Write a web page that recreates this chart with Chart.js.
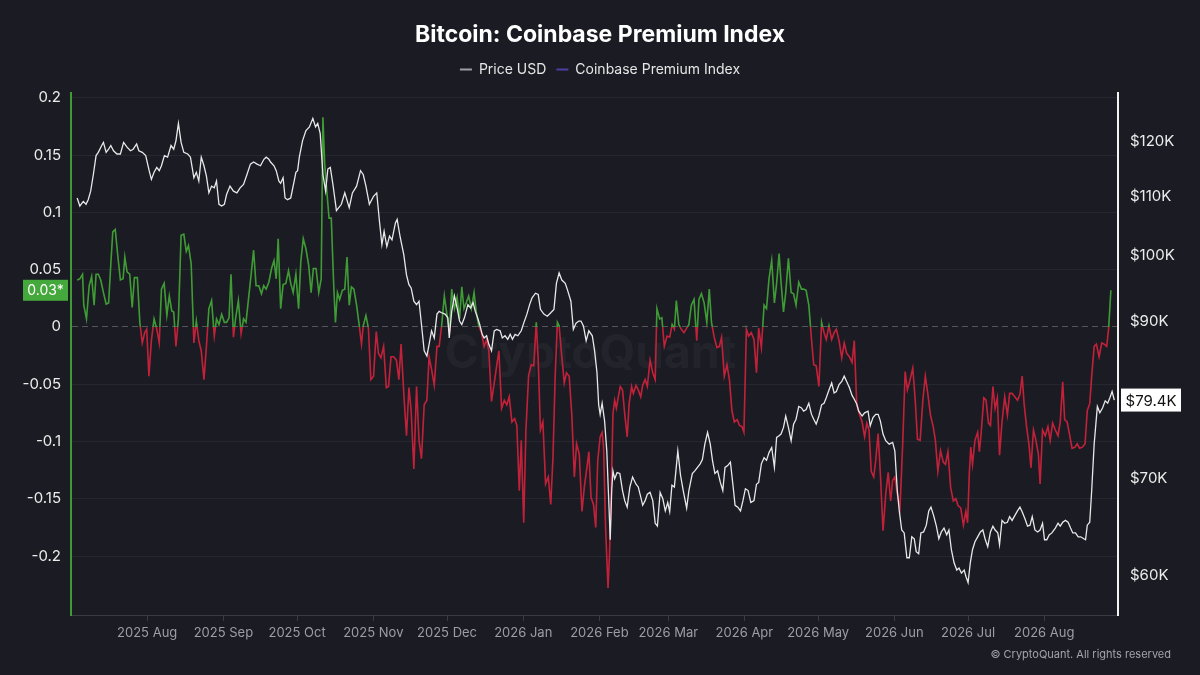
<!DOCTYPE html>
<html>
<head>
<meta charset="utf-8">
<title>Bitcoin: Coinbase Premium Index</title>
<script src="https://cdn.jsdelivr.net/npm/chart.js@4.4.1/dist/chart.umd.min.js"></script>
<style>
  html, body { margin: 0; padding: 0; background: #1b1b23; }
  #wrap { width: 1200px; height: 675px; position: relative; }
</style>
</head>
<body>
<div id="wrap"><canvas id="myChart"></canvas></div>
<script>
'use strict';

// x values are days counted from 2025-07-01
let xTickDays = [31, 62, 92, 123, 153, 184, 215, 243, 274, 304, 335, 365, 396];
let xTickLabels = ['2025 Aug', '2025 Sep', '2025 Oct', '2025 Nov', '2025 Dec', '2026 Jan', '2026 Feb',
  '2026 Mar', '2026 Apr', '2026 May', '2026 Jun', '2026 Jul', '2026 Aug'];
let premiumTicks = [-0.2, -0.15, -0.1, -0.05, 0, 0.05, 0.1, 0.15, 0.2];
let priceTicks = [60, 70, 80, 90, 100, 110, 120];

// Price USD, in thousands
let priceDays = [2.5, 3.6, 5.0, 6.1, 7.0, 8.0, 9.1, 10.2, 11.1, 12.5, 13.2, 14.3, 15.3, 16.2, 17.3, 18.7, 20.1, 21.4, 22.8, 24.2,
  25.3, 26.7, 27.6, 29.0, 30.4, 31.8, 32.7, 33.8, 34.9, 35.9, 36.8, 38.0, 39.3, 40.7, 41.8, 42.7, 43.7, 44.8, 45.9, 47.5,
  48.6, 50.0, 51.0, 52.0, 53.0, 54.1, 55.1, 56.1, 57.2, 58.3, 59.2, 60.2, 61.3, 62.4, 63.3, 64.7, 66.1, 67.5, 68.8, 70.2,
  71.6, 73.0, 74.3, 75.7, 77.1, 78.5, 79.4, 80.5, 81.2, 82.6, 83.5, 84.6, 85.3, 86.3, 87.1, 88.1, 89.4, 90.8, 91.5, 92.2,
  92.9, 94.2, 95.6, 97.0, 98.4, 99.5, 100.4, 101.4, 102.5, 103.6, 104.5, 105.5, 106.6, 108.0, 110.0, 111.4, 113.2, 114.5, 116.2, 117.8,
  118.9, 120.0, 121.4, 123.1, 124.4, 125.5, 126.5, 127.4, 128.5, 129.6, 130.6, 132.0, 132.7, 134.0, 135.4, 136.5, 137.5, 138.4, 139.5, 140.6,
  141.6, 142.6, 143.7, 144.8, 145.7, 146.7, 147.8, 148.9, 149.8, 150.8, 152.2, 153.3, 153.9, 154.9, 156.0, 157.1, 158.1, 159.0, 160.1, 161.5,
  162.6, 163.6, 164.5, 165.4, 166.3, 167.3, 168.1, 169.1, 170.0, 171.1, 172.2, 173.2, 174.6, 175.5, 176.6, 177.7, 178.7, 179.6, 180.7, 181.8,
  183.2, 184.2, 185.5, 186.6, 187.6, 189.0, 190.1, 191.0, 192.4, 193.8, 195.2, 196.5, 197.5, 198.6, 199.7, 201.1, 202.0, 203.4, 204.4, 205.5,
  206.6, 207.5, 208.5, 209.6, 210.7, 212.1, 213.0, 214.0, 214.7, 215.3, 216.1, 217.1, 218.0, 218.9, 219.4, 220.0, 220.5, 221.2, 222.2, 223.3,
  224.4, 225.3, 226.3, 227.4, 228.5, 229.9, 230.8, 231.8, 232.6, 233.6, 234.5, 235.6, 236.7, 237.7, 238.6, 239.7, 240.8, 241.8, 242.8, 243.6,
  244.5, 245.5, 246.9, 248.0, 249.1, 250.5, 251.4, 252.8, 253.8, 254.9, 256.0, 256.9, 257.9, 259.0, 260.1, 261.0, 262.0, 263.1, 264.2, 265.2,
  266.1, 267.2, 268.3, 269.3, 270.2, 271.3, 272.4, 273.4, 274.4, 275.5, 276.6, 277.9, 278.9, 279.8, 280.9, 282.0, 283.0, 284.0, 285.1, 286.2,
  287.1, 288.1, 288.9, 289.9, 290.8, 291.9, 293.0, 294.0, 295.0, 296.1, 297.2, 298.1, 299.1, 300.2, 301.3, 302.2, 303.2, 304.3, 305.4, 306.4,
  307.3, 308.4, 309.5, 310.5, 311.4, 312.5, 313.6, 314.6, 315.6, 316.7, 317.8, 318.7, 319.7, 320.5, 321.9, 322.9, 324.3, 325.2, 326.3, 327.4,
  328.4, 329.3, 330.4, 331.5, 332.9, 334.3, 335.2, 336.2, 337.0, 338.0, 339.0, 340.1, 341.1, 342.1, 343.1, 343.9, 344.9, 345.8, 346.9, 348.0,
  349.0, 349.9, 351.0, 352.1, 353.1, 354.1, 355.2, 356.3, 357.2, 358.2, 359.3, 360.4, 361.3, 362.3, 363.4, 364.1, 365.0, 365.9, 366.8, 367.8,
  368.9, 370.0, 371.0, 371.9, 373.0, 374.1, 375.1, 376.0, 377.1, 377.8, 378.8, 379.9, 381.0, 381.9, 382.9, 384.0, 385.1, 386.1, 387.0, 388.1,
  389.2, 390.2, 391.1, 392.2, 393.3, 394.3, 395.3, 396.1, 397.0, 398.0, 399.1, 400.5, 401.6, 402.5, 403.5, 404.6, 405.7, 406.7, 407.6, 408.7,
  409.8, 410.8, 412.1, 412.8, 413.5, 414.5, 415.3, 416.3, 417.6, 418.6, 419.7, 420.8, 421.8, 422.7, 423.6, 424.5];
let priceK = [109.7, 108.3, 109.1, 108.6, 109.4, 110.9, 113.9, 117.4, 118.0, 119.3, 119.9, 118.0, 118.6, 119.3, 118.3, 117.7, 117.7, 119.9, 119.0, 118.3,
  118.6, 119.6, 118.3, 118.0, 117.4, 114.6, 113.0, 114.3, 115.2, 114.6, 115.5, 117.4, 117.1, 119.3, 118.6, 120.2, 123.6, 119.9, 118.0, 117.7,
  117.1, 113.3, 114.3, 112.7, 117.1, 115.5, 113.6, 110.6, 111.8, 111.5, 112.7, 108.6, 108.3, 108.6, 110.3, 111.8, 110.9, 110.6, 111.5, 112.1,
  113.9, 115.8, 116.2, 115.8, 115.5, 116.7, 117.1, 116.7, 116.2, 115.5, 114.6, 112.7, 112.3, 113.3, 109.7, 109.4, 109.7, 112.7, 114.3, 114.6,
  117.1, 120.2, 122.2, 122.9, 124.6, 122.9, 123.6, 121.6, 113.9, 110.9, 114.9, 115.2, 112.0, 107.5, 108.6, 110.6, 108.0, 110.6, 111.8, 114.6,
  113.9, 111.8, 108.6, 110.0, 110.6, 105.7, 101.8, 104.0, 101.5, 103.2, 102.6, 105.4, 106.0, 102.9, 100.2, 97.0, 95.5, 95.0, 93.0, 92.5,
  93.0, 89.6, 85.9, 85.2, 86.8, 88.7, 87.7, 91.1, 91.5, 91.3, 91.1, 90.6, 87.7, 91.5, 93.8, 92.0, 90.1, 89.6, 90.6, 92.5,
  92.0, 92.8, 91.5, 90.6, 89.6, 88.2, 87.7, 88.0, 86.8, 85.9, 88.7, 88.9, 88.7, 87.7, 88.0, 87.5, 88.2, 87.5, 88.2, 88.0,
  88.7, 89.8, 91.1, 92.5, 93.5, 94.2, 94.0, 91.8, 91.1, 90.8, 91.3, 91.8, 95.7, 97.3, 96.2, 95.7, 94.7, 93.0, 88.9, 89.8,
  90.1, 90.1, 89.4, 87.3, 88.7, 88.0, 86.0, 83.0, 78.8, 77.6, 79.0, 76.8, 73.2, 66.9, 63.5, 68.7, 70.9, 70.0, 70.7, 70.6,
  68.7, 67.6, 66.9, 69.1, 70.2, 69.4, 69.1, 68.0, 67.1, 67.6, 68.3, 68.5, 67.6, 65.2, 64.9, 68.5, 67.8, 66.5, 67.4, 66.4,
  69.3, 69.1, 73.2, 70.4, 68.7, 66.8, 68.7, 70.6, 70.9, 71.3, 71.7, 72.2, 74.0, 75.4, 74.0, 72.1, 70.6, 70.9, 69.6, 68.7,
  71.3, 71.5, 71.9, 69.4, 67.1, 66.9, 66.5, 67.6, 68.9, 68.7, 67.4, 67.6, 69.4, 69.6, 71.7, 72.4, 72.1, 73.0, 73.6, 71.3,
  74.8, 75.0, 75.2, 76.0, 77.4, 76.0, 74.4, 76.4, 77.0, 78.6, 78.4, 78.0, 78.2, 79.0, 77.6, 77.0, 76.4, 77.4, 78.8, 79.0,
  79.7, 80.7, 81.6, 80.3, 80.5, 81.4, 81.8, 82.5, 81.8, 81.0, 80.0, 79.5, 78.9, 78.0, 77.4, 77.8, 78.0, 76.2, 77.2, 77.6,
  77.6, 76.8, 75.2, 74.4, 74.0, 74.2, 73.2, 68.7, 66.5, 64.5, 64.2, 61.7, 61.7, 63.8, 63.6, 62.3, 62.1, 64.2, 64.3, 65.0,
  66.5, 66.9, 66.0, 64.9, 63.6, 64.3, 64.7, 64.0, 64.5, 62.5, 61.2, 60.5, 60.7, 60.2, 60.5, 59.9, 59.3, 61.2, 62.5, 63.3,
  63.8, 64.3, 64.5, 63.6, 62.8, 64.3, 64.9, 64.5, 64.2, 63.0, 65.5, 65.2, 65.3, 65.9, 65.5, 66.0, 66.5, 66.9, 66.4, 65.7,
  64.9, 65.0, 65.9, 64.5, 64.3, 64.5, 65.2, 63.5, 63.5, 64.0, 64.2, 64.7, 65.2, 64.9, 65.3, 65.5, 65.3, 64.7, 64.2, 64.2,
  63.8, 63.8, 63.6, 63.5, 65.0, 65.3, 68.7, 74.0, 78.6, 77.8, 78.4, 79.3, 79.0, 79.7, 80.5, 79.4];

// Coinbase Premium Index
let premiumDays = [2.5, 3.6, 4.7, 5.2, 6.3, 7.4, 8.4, 9.4, 10.2, 11.1, 12.1, 13.2, 14.3, 15.3, 16.2, 17.0, 18.0, 19.0, 20.1, 21.2,
  21.9, 22.8, 23.9, 24.9, 25.8, 27.0, 28.0, 29.0, 30.0, 30.8, 31.7, 32.7, 33.8, 34.9, 35.9, 36.8, 37.9, 39.0, 40.0, 41.0,
  41.8, 42.7, 43.7, 44.8, 45.9, 46.9, 47.8, 48.9, 50.0, 51.0, 52.0, 53.0, 54.1, 55.1, 56.1, 57.2, 58.3, 59.2, 60.2, 61.3,
  62.4, 63.3, 64.3, 65.1, 66.1, 67.0, 68.1, 69.2, 70.2, 71.2, 72.3, 73.4, 74.3, 75.3, 76.4, 77.5, 78.4, 79.4, 80.5, 81.6,
  82.6, 83.5, 84.3, 85.3, 86.3, 87.4, 88.5, 89.4, 90.4, 91.5, 92.6, 93.5, 94.5, 95.6, 96.7, 97.7, 98.6, 99.7, 100.8, 101.8,
  102.5, 103.2, 104.1, 105.0, 105.9, 106.9, 107.6, 108.4, 109.3, 110.4, 111.4, 112.3, 113.2, 114.1, 115.1, 116.2, 117.3, 118.2, 118.9, 120.0,
  121.0, 122.0, 123.1, 124.2, 125.1, 126.1, 127.2, 128.3, 129.2, 130.2, 131.3, 132.4, 133.4, 134.3, 135.4, 136.5, 137.5, 138.4, 139.5, 140.6,
  141.6, 142.6, 143.7, 144.8, 145.7, 146.7, 147.8, 148.9, 149.8, 150.8, 151.9, 153.0, 154.0, 154.9, 156.0, 157.1, 158.1, 159.0, 159.9, 160.8,
  161.8, 162.9, 164.0, 164.9, 165.9, 167.0, 168.1, 169.1, 170.0, 171.1, 172.2, 173.2, 174.1, 175.2, 176.3, 177.3, 178.3, 179.4, 180.5, 181.4,
  182.4, 183.2, 184.2, 185.1, 186.2, 187.3, 188.3, 189.3, 190.1, 191.0, 192.0, 193.1, 194.2, 195.2, 196.1, 197.0, 197.9, 198.6, 199.7, 200.7,
  201.6, 202.7, 203.8, 204.8, 205.7, 206.8, 207.9, 208.9, 209.9, 210.7, 211.6, 212.6, 213.5, 214.3, 215.3, 216.1, 216.7, 217.5, 218.5, 219.1,
  219.8, 220.5, 221.2, 221.9, 222.6, 223.5, 224.4, 225.3, 226.3, 227.1, 228.1, 228.8, 229.9, 230.8, 231.8, 232.6, 233.6, 234.5, 235.6, 236.7,
  237.7, 238.4, 239.5, 240.4, 241.4, 242.5, 243.6, 244.6, 245.5, 246.3, 247.3, 248.3, 249.4, 250.5, 251.4, 252.4, 253.5, 254.6, 255.5, 256.5,
  257.6, 258.7, 259.7, 260.6, 261.7, 262.8, 263.8, 264.7, 265.8, 266.9, 267.9, 268.9, 269.9, 271.1, 272.0, 273.0, 273.8, 274.8, 275.7, 276.8,
  277.9, 278.9, 279.8, 280.9, 282.0, 283.0, 284.0, 285.1, 286.2, 287.1, 288.1, 288.9, 289.9, 290.8, 291.9, 293.0, 294.0, 295.0, 296.1, 297.2,
  298.1, 299.1, 300.2, 301.3, 302.2, 303.2, 304.3, 305.4, 306.4, 307.3, 308.4, 309.5, 310.5, 311.4, 312.5, 313.6, 314.6, 315.6, 316.7, 317.8,
  318.7, 319.7, 320.8, 321.9, 322.9, 323.8, 324.7, 325.6, 326.6, 327.4, 328.4, 329.3, 330.4, 331.5, 332.5, 333.5, 334.3, 335.2, 336.2, 337.3,
  338.4, 339.4, 340.3, 341.4, 342.5, 343.5, 344.4, 345.5, 346.6, 347.6, 348.6, 349.7, 350.8, 351.7, 352.7, 353.8, 354.9, 355.8, 356.8, 357.9,
  359.0, 360.0, 360.9, 362.0, 363.1, 364.1, 364.8, 365.5, 366.1, 366.8, 367.8, 368.9, 369.6, 370.3, 371.4, 372.3, 373.3, 374.1, 375.1, 376.0,
  376.9, 377.8, 378.8, 379.9, 381.0, 381.9, 382.9, 384.0, 385.1, 386.1, 387.0, 387.8, 388.8, 389.8, 390.6, 391.6, 392.5, 393.6, 394.3, 395.3,
  396.4, 397.5, 398.4, 399.4, 400.5, 401.6, 402.5, 403.5, 404.3, 405.3, 406.2, 407.3, 408.5, 409.4, 410.4, 411.5, 412.6, 413.5, 414.5, 415.3,
  416.3, 417.2, 418.3, 419.4, 420.4, 421.4, 422.2, 423.1];
let premiumValues = [0.041, 0.042, 0.046, 0.019, 0.007, 0.036, 0.044, 0.019, 0.046, 0.046, 0.041, 0.030, 0.020, 0.021, 0.055, 0.083, 0.085, 0.063, 0.041, 0.042,
  0.061, 0.048, 0.046, 0.017, 0.043, 0.043, 0.004, -0.014, -0.005, -0.002, -0.043, -0.012, 0.007, -0.002, -0.014, 0.033, 0.038, 0.010, 0.027, 0.014,
  0.013, -0.017, 0.007, 0.080, 0.081, 0.066, 0.071, 0.055, -0.014, 0.005, -0.012, -0.021, -0.046, -0.017, 0.016, 0.023, -0.008, 0.007, 0.002, 0.011,
  0.004, 0.004, 0.008, 0.046, -0.009, 0.008, 0.023, -0.006, 0.007, 0.004, 0.026, 0.048, 0.067, 0.036, 0.036, 0.029, 0.036, 0.033, 0.039, 0.051,
  0.058, 0.042, 0.077, 0.016, 0.037, 0.038, 0.049, 0.038, 0.030, 0.046, 0.016, 0.057, 0.077, 0.068, 0.054, 0.030, 0.051, 0.051, 0.030, 0.042,
  0.183, 0.143, 0.118, 0.095, 0.095, 0.036, 0.004, 0.030, 0.024, 0.032, 0.033, 0.061, 0.019, 0.035, 0.033, 0.019, 0.001, -0.015, 0.001, 0.010,
  -0.001, -0.046, -0.043, -0.004, -0.023, -0.027, -0.017, -0.053, -0.052, -0.026, -0.026, -0.029, -0.046, -0.015, -0.058, -0.095, -0.053, -0.073, -0.124, -0.052,
  -0.099, -0.115, -0.068, -0.064, -0.026, -0.037, -0.051, -0.017, -0.017, 0.001, 0.027, 0.010, -0.005, 0.033, 0.016, 0.026, 0.007, 0.035, 0.016, 0.021,
  0.027, 0.016, 0.030, 0.013, 0.001, -0.005, -0.017, -0.011, -0.021, -0.065, -0.049, -0.034, -0.021, -0.071, -0.064, -0.068, -0.061, -0.083, -0.080, -0.086,
  -0.143, -0.099, -0.171, -0.090, -0.042, -0.033, -0.034, 0.004, -0.029, -0.090, -0.083, -0.137, -0.131, -0.155, -0.114, -0.043, 0.004, 0.001, -0.026, -0.049,
  -0.040, -0.043, -0.078, -0.131, -0.102, -0.111, -0.161, -0.139, -0.123, -0.109, -0.149, -0.155, -0.175, -0.117, -0.096, -0.092, -0.105, -0.175, -0.228, -0.199,
  -0.146, -0.076, -0.064, -0.071, -0.062, -0.052, -0.055, -0.076, -0.096, -0.067, -0.052, -0.058, -0.051, -0.055, -0.061, -0.051, -0.046, -0.052, -0.029, -0.040,
  -0.046, 0.016, 0.007, 0.008, -0.017, -0.008, -0.009, 0.002, -0.002, 0.023, 0.002, -0.002, -0.005, -0.001, 0.002, 0.019, 0.024, -0.012, 0.024, 0.029,
  0.021, 0.004, 0.033, 0.004, -0.009, -0.018, -0.017, -0.009, -0.043, -0.033, -0.046, -0.073, -0.083, -0.081, -0.086, -0.087, -0.092, -0.002, -0.008, -0.005,
  -0.011, -0.040, -0.001, -0.018, 0.019, 0.016, 0.042, 0.058, 0.021, 0.038, 0.064, 0.039, 0.013, 0.030, 0.060, 0.030, 0.029, 0.019, 0.039, 0.033,
  0.033, 0.032, 0.019, -0.011, -0.033, -0.034, -0.052, 0.004, -0.005, -0.011, 0.001, -0.011, -0.005, -0.002, -0.012, -0.027, -0.014, -0.023, -0.026, -0.031,
  -0.012, -0.068, -0.076, -0.083, -0.096, -0.084, -0.090, -0.126, -0.131, -0.117, -0.093, -0.128, -0.178, -0.146, -0.127, -0.152, -0.134, -0.131, -0.146, -0.158,
  -0.102, -0.039, -0.055, -0.046, -0.036, -0.064, -0.098, -0.099, -0.064, -0.043, -0.058, -0.077, -0.087, -0.099, -0.126, -0.108, -0.118, -0.120, -0.109, -0.140,
  -0.152, -0.150, -0.156, -0.158, -0.173, -0.161, -0.171, -0.128, -0.105, -0.120, -0.099, -0.092, -0.109, -0.093, -0.062, -0.064, -0.084, -0.086, -0.052, -0.071,
  -0.062, -0.112, -0.083, -0.061, -0.077, -0.058, -0.058, -0.061, -0.064, -0.059, -0.043, -0.067, -0.087, -0.103, -0.123, -0.090, -0.098, -0.111, -0.137, -0.090,
  -0.095, -0.087, -0.099, -0.084, -0.090, -0.095, -0.083, -0.048, -0.081, -0.083, -0.093, -0.106, -0.105, -0.102, -0.106, -0.105, -0.102, -0.073, -0.067, -0.043,
  -0.017, -0.015, -0.026, -0.014, -0.015, -0.017, -0.001, 0.032];

let bgColor = '#1b1b23';
let greenColor = '#3f9c35';
let redColor = '#c22139';

//Helper Functions
function toPoints(days, values) {
  let pts = [];
  for (let i = 0; i < days.length; i++) {
    pts.push({ x: days[i], y: values[i] });
  }
  return pts;
}

// green above zero, red below, split exactly at the zero line
function premiumStroke(context) {
  let chart = context.chart;
  let area = chart.chartArea;
  if (!area || !chart.scales.yL) {
    return greenColor;
  }
  let zeroY = chart.scales.yL.getPixelForValue(0);
  let stop = (zeroY - area.top) / (area.bottom - area.top);
  stop = Math.min(1, Math.max(0, stop));
  let grad = chart.ctx.createLinearGradient(0, area.top, 0, area.bottom);
  grad.addColorStop(0, greenColor);
  grad.addColorStop(stop, greenColor);
  grad.addColorStop(stop, redColor);
  grad.addColorStop(1, redColor);
  return grad;
}

function drawBadge(ctx, x, y, w, h, fill, textColor, text) {
  ctx.fillStyle = fill;
  ctx.fillRect(x, y - h / 2, w, h);
  ctx.fillStyle = textColor;
  ctx.textAlign = 'center';
  ctx.textBaseline = 'middle';
  ctx.fillText(text, x + w / 2, y + 1);
}

//plugins
const backdrop = {
  id: 'backdrop',
  beforeDraw(chart) {
    let ctx = chart.ctx;
    ctx.save();
    ctx.fillStyle = bgColor;
    ctx.fillRect(0, 0, chart.width, chart.height);
    ctx.restore();
  },
  beforeDatasetsDraw(chart) {
    let ctx = chart.ctx;
    let a = chart.chartArea;
    ctx.save();
    ctx.font = 'bold 46px Inter, "Noto Sans", sans-serif';
    ctx.fillStyle = 'rgba(255, 255, 255, 0.04)';
    ctx.textAlign = 'center';
    ctx.textBaseline = 'middle';
    ctx.fillText('CryptoQuant', (a.left + a.right) / 2 - 4, (a.top + a.bottom) / 2);
    ctx.restore();
  }
};

const lastValues = {
  id: 'lastValues',
  afterDraw(chart) {
    let ctx = chart.ctx;
    let a = chart.chartArea;
    let lastPremium = premiumValues[premiumValues.length - 1];
    let lastPrice = priceK[priceK.length - 1];
    ctx.save();
    ctx.font = '14px Inter, "Noto Sans", sans-serif';
    drawBadge(ctx, a.left - 48, chart.scales.yL.getPixelForValue(lastPremium), 45, 21,
      '#45a83c', '#ffffff', lastPremium.toFixed(2) + '*');
    ctx.font = '15px Inter, "Noto Sans", sans-serif';
    drawBadge(ctx, a.right + 3, chart.scales.yR.getPixelForValue(lastPrice), 60, 23,
      '#ffffff', '#111111', '$' + lastPrice.toFixed(1) + 'K');
    ctx.font = '11px Inter, "Noto Sans", sans-serif';
    ctx.fillStyle = '#a3a3ab';
    ctx.textAlign = 'right';
    ctx.textBaseline = 'middle';
    ctx.fillText('\u00a9 CryptoQuant. All rights reserved', 1171, 655);
    ctx.restore();
  }
};

Chart.defaults.font.family = 'Inter, "Noto Sans", sans-serif';

const data = {
  datasets: [{
    label: 'Price USD',
    data: toPoints(priceDays, priceK),
    yAxisID: 'yR',
    borderColor: '#e8e8ea',
    borderWidth: 1.3,
    pointRadius: 0,
    tension: 0
  }, {
    label: 'Coinbase Premium Index',
    data: toPoints(premiumDays, premiumValues),
    yAxisID: 'yL',
    borderColor: premiumStroke,
    borderWidth: 1.6,
    pointRadius: 0,
    tension: 0
  }]
};

const config = {
  type: 'line',
  data: data,
  plugins: [backdrop, lastValues],
  options: {
    responsive: true,
    maintainAspectRatio: false,
    animation: false,
    layout: { padding: 0 },
    plugins: {
      title: {
        display: true,
        text: 'Bitcoin: Coinbase Premium Index',
        color: '#ffffff',
        font: { size: 23, weight: 'bold' },
        padding: { top: 21, bottom: 4 }
      },
      legend: {
        display: true,
        labels: {
          color: '#e6e6e6',
          font: { size: 14 },
          usePointStyle: true,
          pointStyleWidth: 12,
          boxHeight: 12,
          padding: 10,
          generateLabels: function () {
            return [
              { text: 'Price USD', fillStyle: '#9d9daa', strokeStyle: '#9d9daa', lineWidth: 2, pointStyle: 'line', hidden: false, datasetIndex: 0, fontColor: '#e6e6e6' },
              { text: 'Coinbase Premium Index', fillStyle: '#4a3fa8', strokeStyle: '#4a3fa8', lineWidth: 2, pointStyle: 'line', hidden: false, datasetIndex: 1, fontColor: '#e6e6e6' }
            ];
          }
        }
      },
      // empty subtitle used as a spacer under the legend
      subtitle: {
        display: true,
        text: '',
        weight: 500,
        font: { size: 1 },
        padding: { top: 0, bottom: 5 }
      },
      tooltip: { enabled: false }
    },
    scales: {
      x: {
        type: 'linear',
        min: 0,
        max: 426,
        afterBuildTicks: function (scale) {
          scale.ticks = xTickDays.map(v => ({ value: v }));
        },
        afterFit: function (scale) {
          scale.height = 60;
        },
        ticks: {
          color: '#9d9da6',
          font: { size: 13 },
          padding: 4,
          maxRotation: 0,
          autoSkip: false,
          callback: function (value, index) {
            return xTickLabels[index];
          }
        },
        grid: { drawOnChartArea: false, drawTicks: true, tickLength: 6, color: '#3b3b45' },
        border: { color: '#3b3b45', width: 1 }
      },
      yL: {
        type: 'linear',
        position: 'left',
        min: -0.2515,
        max: 0.2044,
        afterBuildTicks: function (scale) {
          scale.ticks = premiumTicks.map(v => ({ value: v }));
        },
        afterFit: function (scale) {
          scale.width = 71;
        },
        ticks: {
          color: '#ececec',
          font: { size: 15 },
          padding: 10,
          callback: function (value) {
            return String(Math.round(value * 100) / 100);
          }
        },
        grid: {
          drawTicks: false,
          color: function (ctx) {
            return ctx.tick && ctx.tick.value === 0 ? 'rgba(255, 255, 255, 0.25)' : 'rgba(255, 255, 255, 0.055)';
          }
        },
        border: {
          color: greenColor,
          width: 2,
          dash: function (ctx) {
            return ctx.tick && ctx.tick.value === 0 ? [6, 4] : [];
          }
        }
      },
      yR: {
        type: 'logarithmic',
        position: 'right',
        min: 56.3,
        max: 129.8,
        afterBuildTicks: function (scale) {
          scale.ticks = priceTicks.map(v => ({ value: v }));
        },
        afterFit: function (scale) {
          scale.width = 82;
        },
        ticks: {
          color: '#ececec',
          font: { size: 15 },
          padding: 12,
          callback: function (value) {
            // 80K sits under the last-price badge
            return value === 80 ? '' : '$' + value + 'K';
          }
        },
        grid: { drawOnChartArea: false, drawTicks: false },
        border: { color: '#f2f2f2', width: 2 }
      }
    }
  }
};

const myChart = new Chart(
  document.getElementById('myChart'),
  config
);
</script>
</body>
</html>
